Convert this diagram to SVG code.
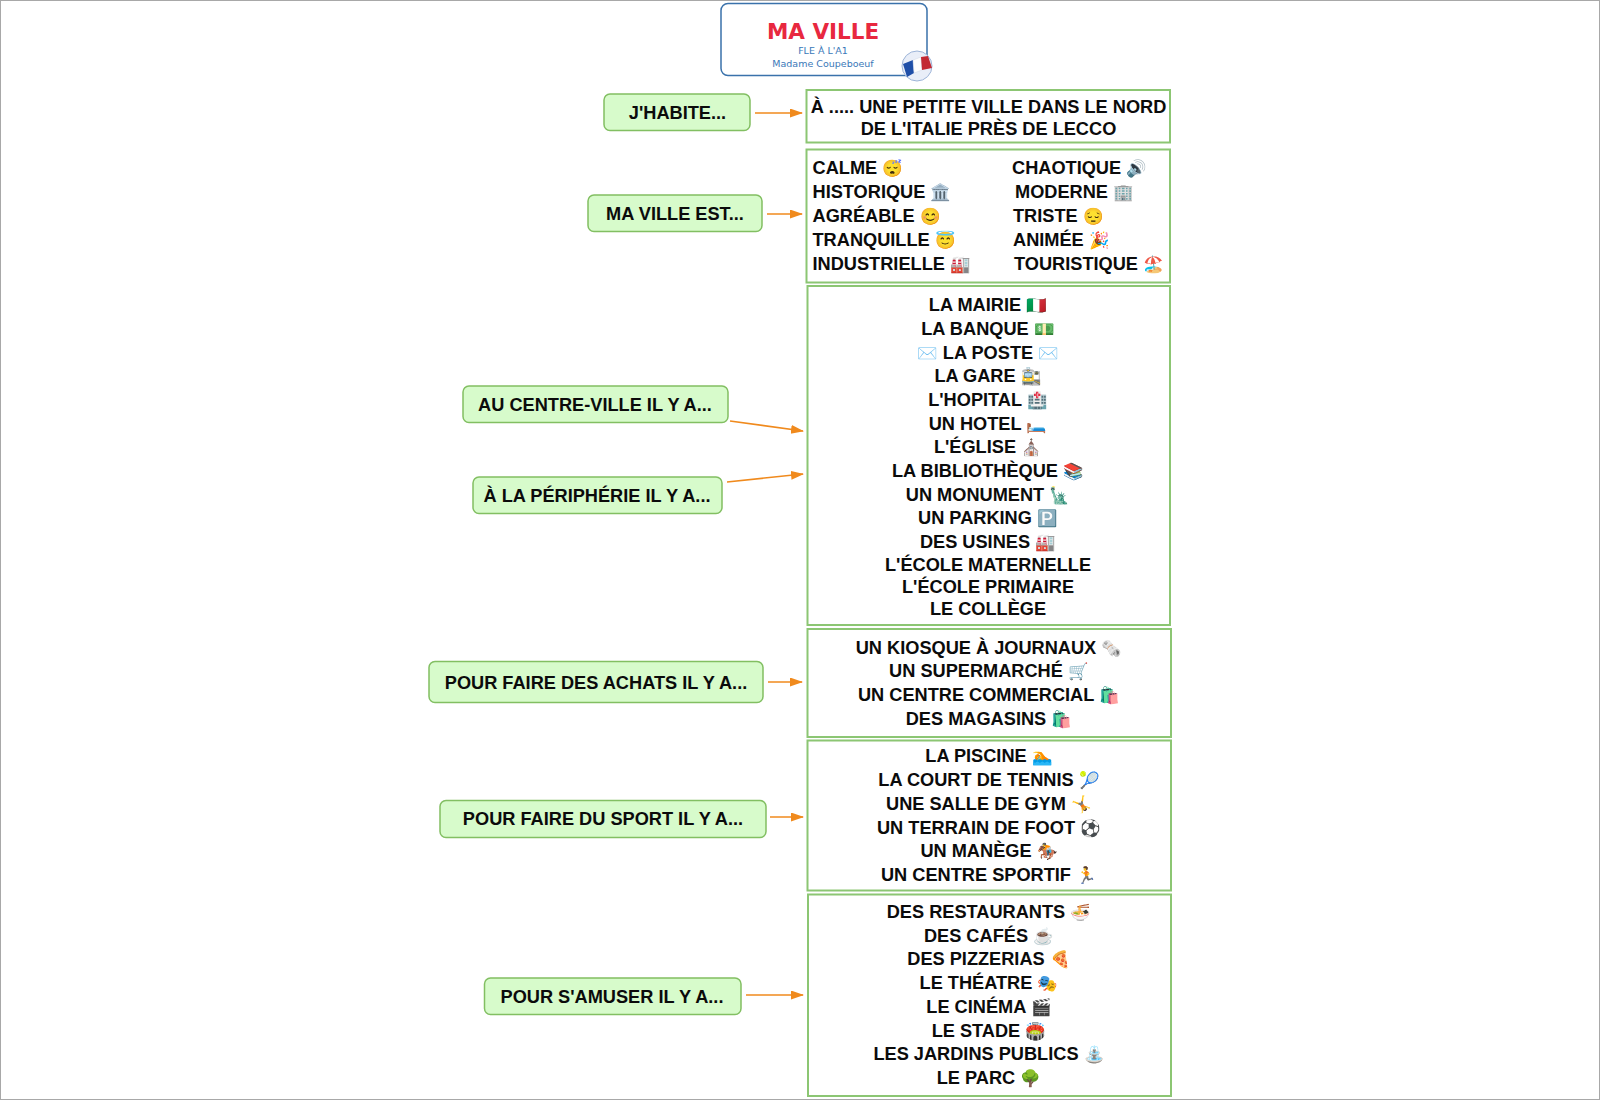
<svg xmlns="http://www.w3.org/2000/svg" width="1600" height="1100" viewBox="0 0 1600 1100">
<defs>
<marker id="ah" markerWidth="13" markerHeight="10" refX="12" refY="4.5" orient="auto" markerUnits="userSpaceOnUse"><path d="M0,0 L13,4.5 L0,9 Z" fill="#f08a1d"/></marker>
</defs>
<style>
text{font-family:"Liberation Sans",Arial,sans-serif;font-weight:700;font-size:18.2px;fill:#0b0b0b}
.c{text-anchor:middle}
.e{font-size:16.5px;font-weight:400}
.node{fill:#d7fbcb;stroke:#82bf62;stroke-width:1.5}
.box{fill:#fff;stroke:#8cc673;stroke-width:2}
.edge{stroke:#f08a1d;stroke-width:1.6;fill:none;marker-end:url(#ah)}
.sub{font-family:"DejaVu Sans",sans-serif;font-weight:400;font-size:9.5px;fill:#3a78b8;text-anchor:middle}
</style>
<rect width="1600" height="1100" fill="#fff"/>
<rect x="0.5" y="0.5" width="1599" height="1099" fill="none" stroke="#a8a8a8"/>
<g id="title">
<rect x="721" y="3.500" width="206" height="72" rx="7" fill="#fff" stroke="#3a72ab" stroke-width="1.500"/>
<text x="823" y="39" style="font-family:'DejaVu Sans',sans-serif;font-size:21.500px;fill:#e8283f" class="c">MA VILLE</text>
<text x="823" y="54" class="sub">FLE À L'A1</text>
<text x="823" y="67" class="sub">Madame Coupeboeuf</text>
<circle cx="917" cy="66" r="15" fill="#e9eef8" stroke="#9db4d8"/>
<path d="M903,64 L913,60 L914,73 L907,77 Z" fill="#1f4fa8"/>
<path d="M913,60 L921,57 L922,70 L914,73 Z" fill="#fdfdfd" stroke="#cfd6e6" stroke-width=".5"/>
<path d="M921,57 L928,56 L932,68 L922,70 Z" fill="#c22a34"/>
</g>
<g id="connectors">
<path class="edge" d="M755,113H802"/>
<path class="edge" d="M767,214H802"/>
<path class="edge" d="M730,421L803,431"/>
<path class="edge" d="M727,482L803,474"/>
<path class="edge" d="M768,682H802"/>
<path class="edge" d="M770,817H803"/>
<path class="edge" d="M746,995H803"/>
</g>
<g id="n1"><rect class="node" x="604" y="94" width="146" height="36.500" rx="6"/><text class="c" x="677.500" y="119">J'HABITE...</text></g>
<g id="n2"><rect class="node" x="588" y="195" width="174" height="36.500" rx="6"/><text class="c" x="675" y="220">MA VILLE EST...</text></g>
<g id="n3"><rect class="node" x="463" y="386" width="265" height="36.500" rx="6"/><text class="c" x="595" y="411">AU CENTRE-VILLE IL Y A...</text></g>
<g id="n4"><rect class="node" x="473" y="477" width="249" height="36.500" rx="6"/><text class="c" x="597" y="502">À LA PÉRIPHÉRIE IL Y A...</text></g>
<g id="n5"><rect class="node" x="429" y="661.500" width="334" height="41" rx="6"/><text class="c" x="596" y="689">POUR FAIRE DES ACHATS IL Y A...</text></g>
<g id="n6"><rect class="node" x="440" y="800.500" width="326" height="37" rx="6"/><text class="c" x="603" y="825">POUR FAIRE DU SPORT IL Y A...</text></g>
<g id="n7"><rect class="node" x="484.500" y="978" width="256.500" height="36.500" rx="6"/><text class="c" x="612" y="1003">POUR S'AMUSER IL Y A...</text></g>
<g id="b1"><rect class="box" x="806.500" y="90" width="363.500" height="52.500"/>
<text class="c" x="988.500" y="113">À ..... UNE PETITE VILLE DANS LE NORD</text>
<text class="c" x="988.500" y="135">DE L'ITALIE PRÈS DE LECCO</text></g>
<g id="b2"><rect class="box" x="806.500" y="149.500" width="363.500" height="133"/>
<text x="812.500" y="174">CALME <tspan class="e">😴</tspan></text><text x="1012" y="174">CHAOTIQUE <tspan class="e">🔊</tspan></text>
<text x="812.500" y="198">HISTORIQUE <tspan class="e">🏛️</tspan></text><text x="1015" y="198">MODERNE <tspan class="e">🏢</tspan></text>
<text x="812.500" y="222">AGRÉABLE <tspan class="e">😊</tspan></text><text x="1013" y="222">TRISTE <tspan class="e">😔</tspan></text>
<text x="812.500" y="245.500">TRANQUILLE <tspan class="e">😇</tspan></text><text x="1013" y="245.500">ANIMÉE <tspan class="e">🎉</tspan></text>
<text x="812.500" y="269.500">INDUSTRIELLE <tspan class="e">🏭</tspan></text><text x="1014" y="269.500">TOURISTIQUE <tspan class="e">🏖️</tspan></text></g>
<g id="b3"><rect class="box" x="807.500" y="286" width="362.500" height="339"/>
<text class="c" x="988" y="311">LA MAIRIE <tspan class="e">🇮🇹</tspan></text>
<text class="c" x="988" y="335">LA BANQUE <tspan class="e">💵</tspan></text>
<text class="c" x="988" y="358.500"><tspan class="e">✉️</tspan> LA POSTE <tspan class="e">✉️</tspan></text>
<text class="c" x="988" y="382">LA GARE <tspan class="e">🚉</tspan></text>
<text class="c" x="988" y="406">L'HOPITAL <tspan class="e">🏥</tspan></text>
<text class="c" x="988" y="430">UN HOTEL <tspan class="e">🛏️</tspan></text>
<text class="c" x="988" y="453">L'ÉGLISE <tspan class="e">⛪</tspan></text>
<text class="c" x="988" y="477">LA BIBLIOTHÈQUE <tspan class="e">📚</tspan></text>
<text class="c" x="988" y="500.500">UN MONUMENT <tspan class="e">🗽</tspan></text>
<text class="c" x="988" y="524">UN PARKING <tspan class="e">🅿️</tspan></text>
<text class="c" x="988" y="548">DES USINES <tspan class="e">🏭</tspan></text>
<text class="c" x="988" y="571">L'ÉCOLE MATERNELLE</text>
<text class="c" x="988" y="593">L'ÉCOLE PRIMAIRE</text>
<text class="c" x="988" y="615">LE COLLÈGE</text></g>
<g id="b4"><rect class="box" x="807.500" y="629" width="363.500" height="108"/>
<text class="c" x="989" y="654">UN KIOSQUE À JOURNAUX <tspan class="e">🗞️</tspan></text>
<text class="c" x="989" y="677">UN SUPERMARCHÉ <tspan class="e">🛒</tspan></text>
<text class="c" x="989" y="701">UN CENTRE COMMERCIAL <tspan class="e">🛍️</tspan></text>
<text class="c" x="989" y="725">DES MAGASINS <tspan class="e">🛍️</tspan></text></g>
<g id="b5"><rect class="box" x="807.500" y="740.500" width="363.500" height="150"/>
<text class="c" x="989" y="762">LA PISCINE <tspan class="e">🏊</tspan></text>
<text class="c" x="989" y="786">LA COURT DE TENNIS <tspan class="e">🎾</tspan></text>
<text class="c" x="989" y="810">UNE SALLE DE GYM <tspan class="e">🤸</tspan></text>
<text class="c" x="989" y="833.500">UN TERRAIN DE FOOT <tspan class="e">⚽</tspan></text>
<text class="c" x="989" y="857">UN MANÈGE <tspan class="e">🏇</tspan></text>
<text class="c" x="989" y="881">UN CENTRE SPORTIF <tspan class="e">🏃</tspan></text></g>
<g id="b6"><rect class="box" x="808" y="894.500" width="363" height="201.500"/>
<text class="c" x="989" y="918">DES RESTAURANTS <tspan class="e">🍜</tspan></text>
<text class="c" x="989" y="942">DES CAFÉS <tspan class="e">☕</tspan></text>
<text class="c" x="989" y="965">DES PIZZERIAS <tspan class="e">🍕</tspan></text>
<text class="c" x="989" y="989">LE THÉATRE <tspan class="e">🎭</tspan></text>
<text class="c" x="989" y="1013">LE CINÉMA <tspan class="e">🎬</tspan></text>
<text class="c" x="989" y="1037">LE STADE <tspan class="e">🏟️</tspan></text>
<text class="c" x="989" y="1060">LES JARDINS PUBLICS <tspan class="e">⛲</tspan></text>
<text class="c" x="989" y="1084">LE PARC <tspan class="e">🌳</tspan></text></g>
</svg>
